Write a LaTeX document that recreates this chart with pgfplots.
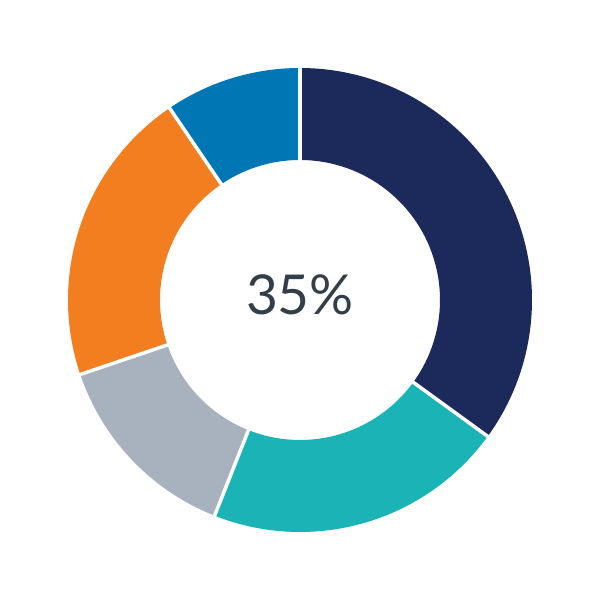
\documentclass[border=0pt]{standalone}
\usepackage{pgfplots}
\usepackage{pgfplotstable}
\pgfplotsset{compat=1.18}
\usepackage{fontspec}
\setmainfont{Lato}
\definecolor{cNavy}{HTML}{1B2A5B}
\definecolor{cTeal}{HTML}{1AB4B6}
\definecolor{cGray}{HTML}{A8B2BF}
\definecolor{cOrange}{HTML}{F37E20}
\definecolor{cBlue}{HTML}{0076B4}
\definecolor{cText}{HTML}{323E48}
\pgfplotstableread{
label value
Navy 35
Teal 21
Gray 13.8
Orange 20.7
Blue 9.5
}\data
\pgfplotstablegetelem{0}{value}\of\data \let\vA\pgfplotsretval%
\pgfplotstablegetelem{1}{value}\of\data \let\vB\pgfplotsretval%
\pgfplotstablegetelem{2}{value}\of\data \let\vC\pgfplotsretval%
\pgfplotstablegetelem{3}{value}\of\data \let\vD\pgfplotsretval%
\pgfplotstablegetelem{4}{value}\of\data \let\vE\pgfplotsretval%
\pgfmathsetmacro\tot{\vA+\vB+\vC+\vD+\vE}%
\pgfmathsetmacro\bA{360*\vA/\tot}%
\pgfmathsetmacro\bB{\bA+360*\vB/\tot}%
\pgfmathsetmacro\bC{\bB+360*\vC/\tot}%
\pgfmathsetmacro\bD{\bC+360*\vD/\tot}%
\begin{document}%
\begin{tikzpicture}
\begin{axis}[
  width=600bp, height=600bp, scale only axis,
  xmin=-300, xmax=300, ymin=-300, ymax=300,
  hide axis, clip=false,
  samples=150,
]
\addplot[draw=none] coordinates {(-300,-300) (300,300)};
\addplot[cNavy,   line width=92bp, domain=0:\bA]   ({186*sin(x)},{186*cos(x)});
\addplot[cTeal,   line width=92bp, domain=\bA:\bB] ({186*sin(x)},{186*cos(x)});
\addplot[cGray,   line width=92bp, domain=\bB:\bC] ({186*sin(x)},{186*cos(x)});
\addplot[cOrange, line width=92bp, domain=\bC:\bD] ({186*sin(x)},{186*cos(x)});
\addplot[cBlue,   line width=92bp, domain=\bD:360] ({186*sin(x)},{186*cos(x)});
\addplot[white, line width=3.5bp, samples=2, domain=135:237] ({x*sin(0)},{x*cos(0)});
\addplot[white, line width=3.5bp, samples=2, domain=135:237] ({x*sin(\bA)},{x*cos(\bA)});
\addplot[white, line width=3.5bp, samples=2, domain=135:237] ({x*sin(\bB)},{x*cos(\bB)});
\addplot[white, line width=3.5bp, samples=2, domain=135:237] ({x*sin(\bC)},{x*cos(\bC)});
\addplot[white, line width=3.5bp, samples=2, domain=135:237] ({x*sin(\bD)},{x*cos(\bD)});
\node[anchor=base, text=cText, font=\fontsize{55bp}{66bp}\selectfont] at (axis cs:0,-15) {35\%};
\end{axis}
\pgfresetboundingbox
\path[use as bounding box] (current axis.south west) rectangle (current axis.north east);
\end{tikzpicture}%
\end{document}
